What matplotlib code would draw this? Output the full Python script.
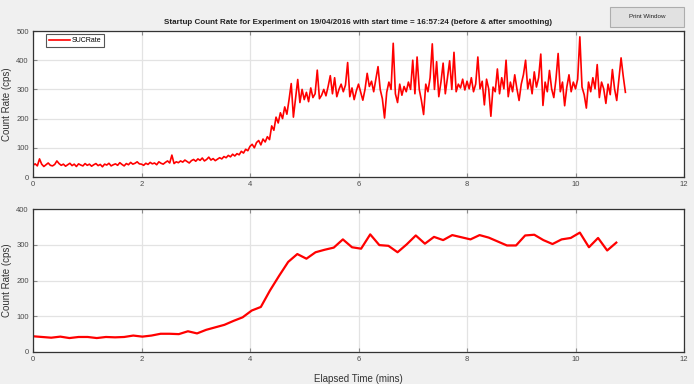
import numpy as np
import matplotlib
matplotlib.use("Agg")
import matplotlib.pyplot as plt
from matplotlib.patches import Rectangle

plt.rcParams['font.family'] = ['Liberation Sans', 'DejaVu Sans']

# ---- raw count rate (sampled every 0.04 min) ----
raw_step = 0.04
raw_m0 = [40, 45, 38, 62, 44, 36, 42, 48, 40, 38, 43, 55, 46, 40, 44, 37, 42, 47, 39, 44, 36, 45, 41, 38, 46]
raw_m1 = [40, 44, 37, 42, 46, 39, 43, 35, 44, 41, 47, 38, 42, 45, 40, 49, 43, 38, 46, 42, 50, 44, 47, 52, 45]
raw_m2 = [44, 40, 47, 43, 50, 45, 48, 42, 52, 47, 44, 50, 55, 48, 75, 46, 52, 49, 55, 51, 58, 53, 48, 56, 60]
raw_m3 = [54, 62, 57, 65, 55, 60, 68, 58, 63, 56, 61, 66, 62, 70, 66, 74, 69, 78, 72, 80, 76, 88, 82, 95, 90]
raw_m4 = [105, 112, 100, 118, 125, 110, 130, 120, 138, 128, 175, 160, 205, 185, 220, 200, 240, 215, 265, 320,
          205, 270, 334, 255, 300]
raw_m5 = [265, 290, 258, 305, 272, 285, 366, 268, 280, 300, 278, 310, 347, 285, 340, 275, 300, 318, 292, 315,
          392, 275, 305, 265, 295]
raw_m6 = [318, 290, 263, 300, 355, 310, 328, 292, 335, 378, 300, 268, 202, 290, 325, 300, 458, 285, 255, 318,
          280, 310, 292, 325, 300]
raw_m7 = [400, 285, 411, 300, 262, 214, 318, 292, 340, 456, 300, 395, 275, 325, 390, 285, 340, 398, 300, 427,
          292, 318, 305, 335, 298]
raw_m8 = [328, 302, 340, 292, 318, 411, 302, 328, 247, 335, 302, 208, 308, 292, 370, 285, 340, 302, 400, 275,
          325, 292, 350, 302, 262]
raw_m9 = [318, 350, 400, 302, 335, 285, 360, 308, 340, 421, 245, 325, 292, 365, 302, 272, 335, 423, 292, 325,
          244, 308, 350, 292, 325]
raw_m10 = [302, 335, 480, 308, 282, 236, 325, 292, 340, 302, 385, 272, 325, 302, 252, 318, 282, 368, 302, 262,
           335, 408, 345, 290]
raw_values = raw_m0 + raw_m1 + raw_m2 + raw_m3 + raw_m4 + raw_m5 + raw_m6 + raw_m7 + raw_m8 + raw_m9 + raw_m10
raw_time = np.arange(len(raw_values)) * raw_step

# ---- smoothed count rate (sampled every 0.168 min) ----
smooth_step = 0.168
smooth_values = [44, 42, 40, 43, 39, 42, 42, 39, 42, 41, 42, 46, 43, 46, 51, 51, 50, 58, 52, 62, 69, 76, 87, 97,
                 116, 126, 172, 213, 252, 274, 261, 279, 286, 292, 315, 293, 289, 329, 299, 297, 279, 301, 326,
                 303, 322, 313, 327, 321, 315, 327, 320, 309, 298, 298, 326, 328, 313, 302, 315, 319, 334, 293,
                 319, 284, 306]
smooth_time = np.arange(len(smooth_values)) * smooth_step

xticks = [0, 2, 4, 6, 8, 10, 12]
top_yticks = [0, 100, 200, 300, 400, 500]
bot_yticks = [0, 100, 200, 300, 400]

title = "Startup Count Rate for Experiment on 19/04/2016 with start time = 16:57:24 (before & after smoothing)"

fig = plt.figure(figsize=(6.94, 3.84), dpi=100)
fig.patch.set_facecolor('#f0f0f0')

ax1 = fig.add_axes([33/694, 1-177/384, 651/694, 146/384])
ax2 = fig.add_axes([33/694, 1-352/384, 651/694, 143/384])

def style(ax, yticks):
    ax.set_facecolor('white')
    ax.set_xlim(0, 12)
    ax.set_xticks(xticks)
    ax.set_yticks(yticks)
    ax.set_ylim(yticks[0], yticks[-1])
    ax.grid(True, color='#e3e3e3', linewidth=0.9)
    ax.set_axisbelow(True)
    ax.tick_params(direction='in', length=3, width=0.8, colors='#8a8a8a',
                   labelcolor='#4a4a4a', labelsize=5.5, top=True, right=True, pad=3)
    for s in ax.spines.values():
        s.set_color('#333333')
        s.set_linewidth(0.9)
    ax.set_ylabel('Count Rate (cps)', fontsize=7, color='#333333')
    ax.yaxis.set_label_coords(-0.032, 0.5)

ax1.plot(raw_time, raw_values, color='#ff0000', linewidth=1.2, label='SUCRate')
style(ax1, top_yticks)
leg = ax1.legend(loc='upper left', bbox_to_anchor=(0.018, 0.99), fontsize=5, handlelength=3.0,
                 fancybox=False, framealpha=1, borderpad=0.45, handletextpad=0.2, borderaxespad=0.2)
leg.get_frame().set_edgecolor('#555555')
leg.get_frame().set_linewidth(0.8)
ax1.set_title(title, fontsize=5.8, fontweight='bold', color='#222222', pad=5)

ax2.plot(smooth_time, smooth_values, color='#ff0000', linewidth=1.6)
style(ax2, bot_yticks)
ax2.set_xlabel('Elapsed Time (mins)', fontsize=7, color='#333333', labelpad=8)

# "Print Window" button
fig.patches.append(Rectangle((610/694, 1-27/384), 74/694, 20/384, transform=fig.transFigure,
                             facecolor='#e1e1e1', edgecolor='#adadad', linewidth=0.8))
fig.text(647/694, 1-17/384, 'Print Window', fontsize=4.5, ha='center', va='center', color='#222222')

fig.savefig('out.png', dpi=100, facecolor=fig.get_facecolor())
